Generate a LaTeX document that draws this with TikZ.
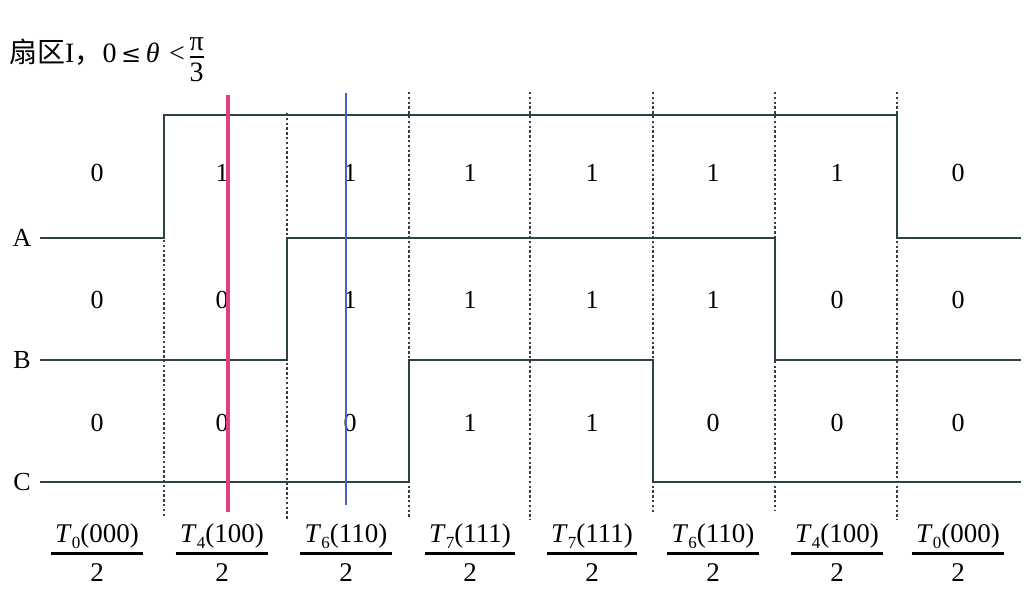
\documentclass[tikz,border=0pt]{standalone}
\usepackage{fontspec}
\setmainfont{Liberation Serif}
\newfontfamily\cjk{Noto Sans CJK SC}
\newfontfamily\symf{DejaVu Serif}
\definecolor{wave}{HTML}{2F4248}
\definecolor{dotc}{HTML}{2E3F48}
\definecolor{pinkl}{HTML}{E0407F}
\definecolor{bluel}{HTML}{4A5FC8}
\begin{document}
\begin{tikzpicture}[x=1pt,y=-1pt,
  wavel/.style={draw=wave,line width=2.9pt,line join=miter},
  dotl/.style={draw=dotc,line width=2.8pt,dash pattern=on 2.4pt off 2.4pt},
  digit/.style={font=\fontsize{26}{30}\selectfont,inner sep=0pt},
  sig/.style={font=\fontsize{26}{30}\selectfont,inner sep=0pt,anchor=center},
  frac/.style={font=\fontsize{27}{30}\selectfont,inner sep=0pt}]
\useasboundingbox (0,0) rectangle (1036,604);
% title
\setlength{\arrayrulewidth}{1.8pt}
\node[anchor=west,inner sep=0pt,font=\fontsize{28}{30}\selectfont] (title) at (9,60)
  {{\cjk 扇区}I{\cjk ，}0\,{\symf\fontsize{24}{26}\selectfont ≤}\,\textit{θ}\,\,<\,\raisebox{-4pt}{\begin{tabular}{@{}c@{}}π\\[-3pt]\hline\rule{0pt}{24pt}3\end{tabular}}};
% signal labels
\node[sig] (la) at (22,238) {A};
\node[sig] (lb) at (22,360) {B};
\node[sig] (lc) at (22,482) {C};
% digits
\foreach \x/\a/\b/\c [count=\i] in {97/0/0/0,222/1/0/0,350/1/1/0,470/1/1/1,592/1/1/1,713/1/1/0,837/1/0/0,958/0/0/0}{
  \node[digit] (ra\i) at (\x,173) {\a};
  \node[digit] (rb\i) at (\x,300) {\b};
  \node[digit] (rc\i) at (\x,423) {\c};
}
% dotted lines
\draw[dotl] (164,240) -- (164,517);
\draw[dotl] (287,113) -- (287,520);
\draw[dotl] (409,92) -- (409,517);
\draw[dotl] (530,92) -- (530,520);
\draw[dotl] (653,92) -- (653,512);
\draw[dotl] (775,92) -- (775,510);
\draw[dotl] (897,92) -- (897,520);
% waveforms
\draw[wavel] (40,238) -- (164,238) -- (164,115) -- (897,115) -- (897,238) -- (1021,238);
\draw[wavel] (40,360) -- (287,360) -- (287,238) -- (775,238) -- (775,360) -- (1021,360);
\draw[wavel] (40,482) -- (409,482) -- (409,360) -- (653,360) -- (653,482) -- (1021,482);
% sampling lines
\draw[pinkl,line width=3.2pt] (228,95) -- (228,512);
\draw[bluel,line width=2.8pt] (346,93) -- (346,505);
% bottom labels
\setlength{\arrayrulewidth}{2.2pt}
\foreach \x/\k/\s [count=\i] in {97/0/000,222/4/100,346/6/110,470/7/111,592/7/111,713/6/110,837/4/100,958/0/000}{
  \node[frac] (f\i) at (\x,556) {\begin{tabular}{@{\,}c@{\,}}\textit{T}\raisebox{-6pt}{\fontsize{17}{18}\selectfont\k}(\s)\\[1pt]\hline\rule{0pt}{27pt}2\end{tabular}};
}
\end{tikzpicture}
\end{document}
